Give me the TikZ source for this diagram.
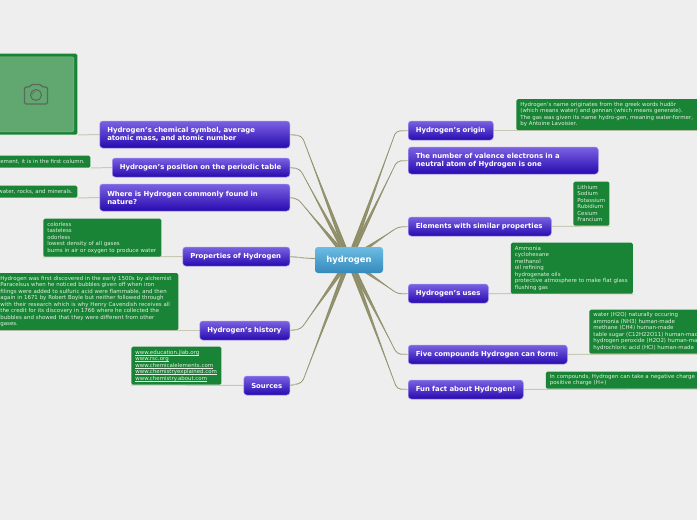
\documentclass[tikz,border=0pt]{standalone}
\usepackage{fontspec}
\setmainfont{DejaVu Sans}
\usetikzlibrary{backgrounds, calc}
\definecolor{map-bg}{HTML}{EEEEEE}
\definecolor{leaf-green}{HTML}{1A8436}
\definecolor{branch-olive}{HTML}{8C8C66}
\definecolor{camera-grey}{HTML}{5C6A5E}
\tikzset{
    every picture/.style={line width=0.75pt},
    root-box/.style={
        draw=none,
        top color={rgb,255:red,108;green,188;blue,228},
        bottom color={rgb,255:red,52;green,138;blue,188},
        rounded corners=3pt,
        minimum width=68pt,
        minimum height=26pt,
        text=white,
        font=\fontsize{8.4}{10}\selectfont\bfseries,
    },
    topic-box/.style={
        draw={rgb,255:red,160;green,145;blue,235},
        line width=0.5pt,
        top color={rgb,255:red,122;green,98;blue,226},
        bottom color={rgb,255:red,40;green,10;blue,176},
        rounded corners=3pt,
        inner xsep=7.5pt,
        inner ysep=0pt,
        align=left,
        text=white,
        font=\fontsize{6.9}{8}\selectfont\bfseries,
    },
    leaf-box/.style={
        fill=leaf-green,
        rounded corners=1.5pt,
        inner xsep=4pt,
        inner ysep=0pt,
        align=left,
        anchor=south west,
        text={rgb,255:red,226;green,240;blue,226},
        font=\fontsize{5.45}{6.5}\selectfont,
    },
    leaf-link/.style={
        draw={rgb,255:red,200;green,200;blue,180},
        line width=1pt,
    },
    branch-line/.style={
        draw={rgb,255:red,150;green,150;blue,116},
        line width=0.8pt,
        rounded corners=4pt,
    },
    branch-end/.style={
        draw={rgb,255:red,192;green,192;blue,166},
        line width=0.9pt,
    },
    branch-root/.style={
        fill=branch-olive,
    },
}
\newcommand{\branchlink}[2]{%
    \fill[branch-root] ($(hydrogen.center)!2.6pt!90:(#2)$) -- ($(hydrogen.center)!0.9!(#2)$) -- ($(hydrogen.center)!2.6pt!-90:(#2)$) -- cycle;
    \draw[branch-line] (hydrogen.center) -- (#2) -- (#1);
    \draw[branch-end] ($(#2)!4pt!(#1)$) -- (#1);
}
\newcommand{\urltext}[1]{\leavevmode\setbox0=\hbox{#1}\rlap{\smash{\rule[-0.9pt]{\wd0}{0.35pt}}}\box0}
\begin{document}
\begin{tikzpicture}[x=1pt,y=-1pt]
\useasboundingbox (0,0) rectangle (697,520);

% Root
\node [root-box] (hydrogen) at (349,260) {hydrogen};

% Left topics
\node [topic-box, anchor=east, minimum height=27pt, text width=175pt] (symbol) at (290,134.5) {Hydrogen's chemical symbol, average\\atomic mass, and atomic number};
\node [topic-box, anchor=east, minimum height=19pt, text width=162.5pt] (position) at (290,167.5) {Hydrogen's position on the periodic table};
\node [topic-box, anchor=east, minimum height=27pt, text width=175pt] (found) at (290,197.5) {Where is Hydrogen commonly found in\\nature?};
\node [topic-box, anchor=east, minimum height=19pt, text width=92pt] (properties) at (290,256.5) {Properties of Hydrogen};
\node [topic-box, anchor=east, minimum height=19pt, text width=75pt] (history) at (290,330.5) {Hydrogen's history};
\node [topic-box, anchor=east, minimum height=19pt, text width=31pt] (sources) at (290,385.5) {Sources};

% Right topics
\node [topic-box, anchor=west, minimum height=19pt, text width=70pt] (origin) at (408,130.5) {Hydrogen's origin};
\node [topic-box, anchor=west, minimum height=27pt, text width=175pt] (valence) at (408,160.5) {The number of valence electrons in a\\neutral atom of Hydrogen is one};
\node [topic-box, anchor=west, minimum height=19pt, text width=128pt] (elements) at (408,226.5) {Elements with similar properties};
\node [topic-box, anchor=west, minimum height=19pt, text width=65pt] (uses) at (408,293.5) {Hydrogen's uses};
\node [topic-box, anchor=west, minimum height=19pt, text width=144pt] (compounds) at (408,354.5) {Five compounds Hydrogen can form:};
\node [topic-box, anchor=west, minimum height=19pt, text width=100pt] (funfact) at (408,389.5) {Fun fact about Hydrogen!};

% Left leaves
\node [leaf-box, minimum height=81pt, text width=79pt] (photo-leaf) at (-10,135) {};
\node [leaf-box, minimum height=12pt, text width=98pt] (position-leaf) at (-16,168) {\hspace*{12pt}ement, it is in the first column.};
\node [leaf-box, minimum height=12pt, text width=76pt] (found-leaf) at (-7,198) {\hspace*{1pt}water, rocks, and minerals.};
\node [leaf-box, minimum height=38pt, text width=110pt] (properties-leaf) at (43,257) {colorless\\tasteless\\odorless\\lowest density of all gases\\burns in air or oxygen to produce water};
\node [leaf-box, minimum height=57pt, text width=174pt] (history-leaf) at (-4,330.5) {Hydrogen was first discovered in the early 1500s by alchemist\\Paracelsus when he noticed bubbles  given off when iron\\filings were added to sulfuric acid were flammable, and then\\again in 1671 by Robert Boyle but neither followed through\\with their research which is why Henry Cavendish receives all\\the credit for its discovery in 1766 where he collected the\\bubbles and showed that they were different from other\\gases.};
\node [leaf-box, minimum height=38pt, text width=82pt] (sources-leaf) at (131,385) {\urltext{www.education.jlab.org}\\\urltext{www.rsc.org}\\\urltext{www.chemicalelements.com}\\\urltext{www.chemistryexplained.com}\\\urltext{www.chemistry.about.com}};

% Right leaves
\node [leaf-box, minimum height=31pt, text width=190pt] (origin-leaf) at (516,130.5) {Hydrogen's name originates from the greek words hudôr\\(which means water) and gennan (which means generate).\\The gas was given its name hydro-gen, meaning water-former,\\by Antoine Lavoisier.};
\node [leaf-box, minimum height=44pt, text width=28pt] (elements-leaf) at (573,226) {Lithium\\Sodium\\Potassium\\Rubidium\\Cesium\\Francium};
\node [leaf-box, minimum height=51pt, text width=114pt] (uses-leaf) at (510.5,294) {Ammonia\\cyclohexane\\methanol\\oil refining\\hydrogenate oils\\protective atmosphere to make flat glass\\flushing gas};
\node [leaf-box, minimum height=44pt, text width=130pt] (compounds-leaf) at (589,354) {water (H2O) naturally occuring\\ammonia (NH3) human-made\\methane (CH4) human-made\\table sugar (C12H22O11) human-made\\hydrogen peroxide (H2O2) human-made\\hydrochloric acid (HCl) human-made};
\node [leaf-box, minimum height=17pt, text width=170pt] (funfact-leaf) at (545.5,389) {In compounds, Hydrogen can take a negative charge\\positive charge (H+)};

% Photo placeholder
\node [draw={rgb,255:red,128;green,190;blue,140}, line width=0.5pt, fill={rgb,255:red,96;green,168;blue,112}, rounded corners=2pt, anchor=south west, minimum width=76.5pt, minimum height=75pt] (photo) at (-3,132) {};
\draw [draw=camera-grey, line width=1.2pt, rounded corners=1.5pt] (24.5,87) -- (30,87) -- (31,84.5) -- (41,84.5) -- (42,87) -- (47.5,87) -- (47.5,104) -- (24.5,104) -- cycle;
\draw [draw=camera-grey, line width=1.1pt] (36,95) circle (5.5);
\draw [draw=camera-grey, line width=0.5pt] (32.5,95) arc (180:270:3.5);

\begin{scope}[on background layer]
\fill [map-bg] (0,0) rectangle (697,520);
% Leaf links
\draw [leaf-link] (photo-leaf.south east) -- (symbol.west);
\draw [leaf-link] (position-leaf.south east) -- (position.west);
\draw [leaf-link] (found-leaf.south east) -- (found.west);
\draw [leaf-link] (properties-leaf.south west) -- (properties.west);
\draw [leaf-link] (history-leaf.south west) -- (history.west);
\draw [leaf-link] (sources-leaf.south west) -- (sources.west);
\draw [leaf-link] (origin.east) -- (origin-leaf.south east);
\draw [leaf-link] (elements.east) -- (elements-leaf.south east);
\draw [leaf-link] (uses.east) -- (uses-leaf.south east);
\draw [leaf-link] (compounds.east) -- (compounds-leaf.south east);
\draw [leaf-link] (funfact.east) -- (funfact-leaf.south east);
% Branches
\branchlink{symbol.east}{302,136}
\branchlink{position.east}{300,169}
\branchlink{found.east}{298,199}
\branchlink{properties.east}{304,258}
\branchlink{history.east}{301,329}
\branchlink{sources.east}{302,383}
\branchlink{origin.west}{396,131}
\branchlink{valence.west}{397,161}
\branchlink{elements.west}{398,227}
\branchlink{uses.west}{398,294}
\branchlink{compounds.west}{397,354}
\branchlink{funfact.west}{397,389}
\end{scope}
\end{tikzpicture}
\end{document}
